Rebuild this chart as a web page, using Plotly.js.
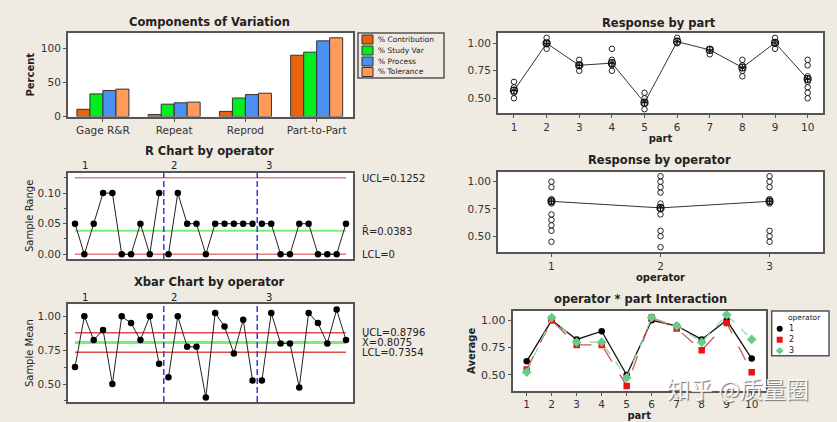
<!DOCTYPE html>
<html><head><meta charset="utf-8">
<script src="https://cdn.plot.ly/plotly-3.0.1.min.js"></script>
<style>html,body{margin:0;padding:0;background:#EFEBE2;overflow:hidden}</style>
</head><body><div id="chart" style="width:837px;height:422px"></div>
<script>
const components=['Gage R&R','Repeat','Reprod','Part-to-Part'];
const pctContribution=[10.5,3,7.5,89.5];
const pctStudyVar=[33,18,27,94];
const pctProcess=[38,20,32,110.5];
const pctTolerance=[40,21,34,115];
const rangeOp1=[.05,0,.05,.10,.10,0,0,.05,0,.10];
const rangeOp2=[0,.10,.05,.05,0,.05,.05,.05,.05,.05];
const rangeOp3=[.05,.05,0,0,.05,.05,0,0,0,.05];
const meanOp1=[.625,1,.825,.9,.5,1,.95,.825,1,.65];
const meanOp2=[.55,1,.775,.775,.4,1.025,.925,.725,.975,.525];
const meanOp3=[.525,1.025,.8,.8,.475,1.025,.95,.8,1.05,.825];
const rLimits={ucl:.1252,center:.0383,lcl:0};
const xLimits={ucl:.8796,center:.8075,lcl:.7354};
const parts=[1,2,3,4,5,6,7,8,9,10];
const operators=[1,2,3];
const partObs=[[.5,.55,.6,.65],[.95,1,1.05],[.75,.8,.85],[.75,.8,.85,.95],[.4,.45,.5,.55],[1,1.05],[.9,.95],[.7,.75,.8,.85],[.95,1,1.05],[.5,.55,.6,.65,.7,.8,.85]];
const partMeans=[.57,1,.8,.82,.46,1.015,.94,.78,1.005,.675];
const operatorObs=[[.45,.55,.6,.65,.7,.8,.82,.84,.95,1],[.4,.5,.55,.7,.75,.8,.9,.95,1,1.05],[.45,.5,.55,.8,.82,.84,.95,1,1.05]];
const operatorMeans=[.82,.76,.82];

const W=837,H=422,BG='#EFEBE2',INK='#222',BORDER='#555';
const FONT='"DejaVu Sans",sans-serif';
const C={contrib:'#E8640A',study:'#00EE1E',process:'#4A90F0',tol:'#FF9A58',
  red:'#E07C7C',redX:'#E04A4A',green:'#78F078',blue:'#3A3AD0',op2:'#EE1111',op2line:'#C85A5A',op3:'#66CC88'};
const dx=(a,b)=>[a/W,b/W], dy=(top,bot)=>[1-bot/H,1-top/H];
function ax(domain,range,extra){return Object.assign({domain,range,showgrid:false,zeroline:false,showline:true,mirror:true,
  linecolor:BORDER,linewidth:2,ticks:'outside',ticklen:3,tickcolor:BORDER,tickfont:{family:FONT,size:10.5,color:'#333'}},extra||{})}
const axTitle=(text,standoff,size)=>({text,standoff,font:{family:FONT,size:size||10,color:INK}});
const traces=[];
[['% Contribution',pctContribution,C.contrib],['% Study Var',pctStudyVar,C.study],['% Process',pctProcess,C.process],['% Tolerance',pctTolerance,C.tol]]
 .forEach(([name,y,color])=>traces.push({type:'bar',name,x:components,y,xaxis:'x',yaxis:'y',showlegend:false,marker:{color,line:{color:'#333',width:1}}}));
function span(i){return Array.from({length:10},(_,k)=>i*10+k+1)}
[rangeOp1,rangeOp2,rangeOp3].forEach((y,i)=>traces.push({type:'scatter',mode:'lines+markers',x:span(i),y,xaxis:'x2',yaxis:'y2',showlegend:false,
  line:{color:'#222',width:1},marker:{color:'#000',size:6.5}}));
[meanOp1,meanOp2,meanOp3].forEach((y,i)=>traces.push({type:'scatter',mode:'lines+markers',x:span(i),y,xaxis:'x3',yaxis:'y3',showlegend:false,
  line:{color:'#222',width:1},marker:{color:'#000',size:6.5}}));
function limit(v,xa,ya,color,width){traces.unshift({type:'scatter',mode:'lines',x:[1,30],y:[v,v],xaxis:xa,yaxis:ya,showlegend:false,line:{color,width}})}
limit(rLimits.ucl,'x2','y2',C.red,1.5);limit(rLimits.center,'x2','y2',C.green,2);limit(rLimits.lcl,'x2','y2',C.red,1.5);
limit(xLimits.ucl,'x3','y3',C.redX,1.5);limit(xLimits.center,'x3','y3',C.green,3);limit(xLimits.lcl,'x3','y3',C.redX,1.5);
function dots(labels,obs,xa,ya){const x=[],y=[];labels.forEach((l,i)=>obs[i].forEach(v=>{x.push(l);y.push(v)}));
  traces.push({type:'scatter',mode:'markers',x,y,xaxis:xa,yaxis:ya,showlegend:false,marker:{symbol:'circle-open',size:5.5,color:'#222',line:{width:1}}})}
dots(parts,partObs,'x4','y4');
traces.push({type:'scatter',mode:'lines+markers',x:parts,y:partMeans,xaxis:'x4',yaxis:'y4',showlegend:false,line:{color:'#333',width:1},marker:{symbol:'circle-cross-open',size:7,color:'#111',line:{width:1.2}}});
dots(operators,operatorObs,'x5','y5');
traces.push({type:'scatter',mode:'lines+markers',x:operators,y:operatorMeans,xaxis:'x5',yaxis:'y5',showlegend:false,line:{color:'#333',width:1},marker:{symbol:'circle-cross-open',size:7,color:'#111',line:{width:1.2}}});
[['1',meanOp1,'#000','#111','circle','solid',6.5,1.3],['2',meanOp2,C.op2,C.op2line,'square','longdash',6.5,1.3],['3',meanOp3,C.op3,'#8FD8A6','diamond','dash',7.5,1.2]].forEach(([name,y,color,lc,symbol,dash,size,w])=>
  traces.push({type:'scatter',mode:'lines+markers',name,x:parts,y,xaxis:'x6',yaxis:'y6',showlegend:false,
    line:{color:lc,width:w,dash},marker:{color,symbol,size}}));

function txt(text,x,y,size,opts){return Object.assign({text,x:x/W,y:1-y/H,xref:'paper',yref:'paper',showarrow:false,
  font:{family:FONT,size,color:INK},xanchor:'center',yanchor:'middle'},opts||{})}
const T=11.5, b=s=>'<b>'+s+'</b>';
const L={xanchor:'left'};
const annotations=[
 txt(b('Components of Variation'),209,22,T),txt(b('R Chart by operator'),209,151,T),txt(b('Xbar Chart by operator'),209,282,T),
 txt(b('Response by part'),659,23,T),txt(b('Response by operator'),659,160,T),txt(b('operator * part Interaction'),640,299,T),
 txt('1',85,166,10),txt('2',174,166,10),txt('3',269,166,10),
 txt('1',85,297,10),txt('2',174,297,10),txt('3',269,297,10),
 txt('UCL='+rLimits.ucl,359.5,178,10,L),txt('R\u0304='+rLimits.center,359.5,231,10,L),txt('LCL='+rLimits.lcl,359.5,254.5,10,L),
 txt('UCL='+xLimits.ucl,359.5,332,10,L),txt('X\u0304='+xLimits.center,359.5,342,10,L),txt('LCL='+xLimits.lcl,359.5,352,10,L),
 txt('% Contribution',375.5,39.3,7.5,L),txt('% Study Var',375.5,50,7.5,L),txt('% Process',375.5,61,7.5,L),txt('% Tolerance',375.5,71.7,7.5,L),
 txt('operator',804,317.7,7.5),txt('1',786.5,328.7,8,L),txt('2',786.5,339.7,8,L),txt('3',786.5,350.7,8,L),
 txt('知乎 @质量圈',738,388,23,{font:{family:'"Noto Sans CJK SC"',size:23,color:'rgba(255,255,255,0.92)',shadow:'1px 1px 1px #666'}})
];
const vline=(v,xa,ya)=>({type:'line',xref:xa,yref:ya+' domain',x0:v,x1:v,y0:0,y1:1,line:{color:C.blue,width:1.5,dash:'6px,3px'}});
const box=(x0,y0,x1,y1,fill,line,lw)=>({type:'rect',xref:'paper',yref:'paper',x0:x0/W,x1:x1/W,y0:1-y0/H,y1:1-y1/H,fillcolor:fill,line:{color:line,width:lw}});
const circ=(cx,cy,r,fill)=>({type:'circle',xref:'paper',yref:'paper',x0:(cx-r)/W,x1:(cx+r)/W,y0:1-(cy-r)/H,y1:1-(cy+r)/H,fillcolor:fill,line:{width:0}});
const diam=(cx,cy,r,fill)=>({type:'path',xref:'paper',yref:'paper',path:`M${(cx-r)/W},${1-cy/H}L${cx/W},${1-(cy-r)/H}L${(cx+r)/W},${1-cy/H}L${cx/W},${1-(cy+r)/H}Z`,fillcolor:fill,line:{width:0}});
const legendShapes=[
 box(358,33,444,78,BG,BORDER,1.5),
 box(362,35,373,44,C.contrib,'#333',1),box(362,46,373,55,C.study,'#333',1),box(362,57,373,66,C.process,'#333',1),box(362,67.5,373,76.5,C.tol,'#333',1),
 box(771.7,311,829,355.7,'#fff',BORDER,1.5),
 circ(779.7,328.7,3,'#000'),box(776.7,336.7,782.7,342.7,C.op2,C.op2,0),diam(779.7,350.7,3.8,C.op3)
];
const layout={width:W,height:H,margin:{l:0,r:0,t:0,b:0},paper_bgcolor:BG,plot_bgcolor:'#fff',
 barmode:'group',bargap:.27,bargroupgap:0,showlegend:false,
 xaxis:ax(dx(68,353),[-.49,3.51],{anchor:'y',type:'category'}),
 yaxis:ax(dy(33,116.5),[0,122],{anchor:'x',tickvals:[0,50,100],title:axTitle(b('Percent'),4)}),
 xaxis2:ax(dx(68,353),[.25,30.75],{anchor:'y2',showticklabels:false,ticks:''}),
 yaxis2:ax(dy(172.7,259),[-.0077,.1333],{anchor:'x2',tickvals:[0,.05,.1],tickformat:'.2f',minor:{tickvals:[.025,.075,.125],ticks:'outside',ticklen:2,tickcolor:BORDER},title:axTitle('Sample Range',2)}),
 xaxis3:ax(dx(68,353),[.25,30.75],{anchor:'y3',showticklabels:false,ticks:''}),
 yaxis3:ax(dy(304.3,402),[.367,1.089],{anchor:'x3',tickvals:[.5,.75,1],tickformat:'.2f',minor:{tickvals:[.375,.625,.875],ticks:'outside',ticklen:2,tickcolor:BORDER},title:axTitle('Sample Mean',2)}),
 xaxis4:ax(dx(498,823),[.51,10.47],{anchor:'y4',tickvals:parts,title:axTitle(b('part'),3)}),
 yaxis4:ax(dy(33,113),[.366,1.094],{anchor:'x4',tickvals:[.5,.75,1],tickformat:'.2f'}),
 xaxis5:ax(dx(498,823),[.51,3.49],{anchor:'y5',tickvals:operators,title:axTitle(b('operator'),3)}),
 yaxis5:ax(dy(172.3,252),[.356,1.086],{anchor:'x5',tickvals:[.5,.75,1],tickformat:'.2f'}),
 xaxis6:ax(dx(512.7,765.7),[.44,10.56],{anchor:'y6',tickvals:parts,title:axTitle(b('part'),3)}),
 yaxis6:ax(dy(311,390.7),[.356,1.085],{anchor:'x6',tickvals:[.5,.75,1],tickformat:'.2f',tickfont:{family:FONT,size:11,color:'#333'},title:axTitle(b('Average'),3,10)}),
 shapes:[vline(10.5,'x2','y2'),vline(20.5,'x2','y2'),vline(10.5,'x3','y3'),vline(20.5,'x3','y3')].concat(legendShapes),
 annotations};
Plotly.newPlot('chart',traces,layout,{displayModeBar:false,staticPlot:true});
</script></body></html>
